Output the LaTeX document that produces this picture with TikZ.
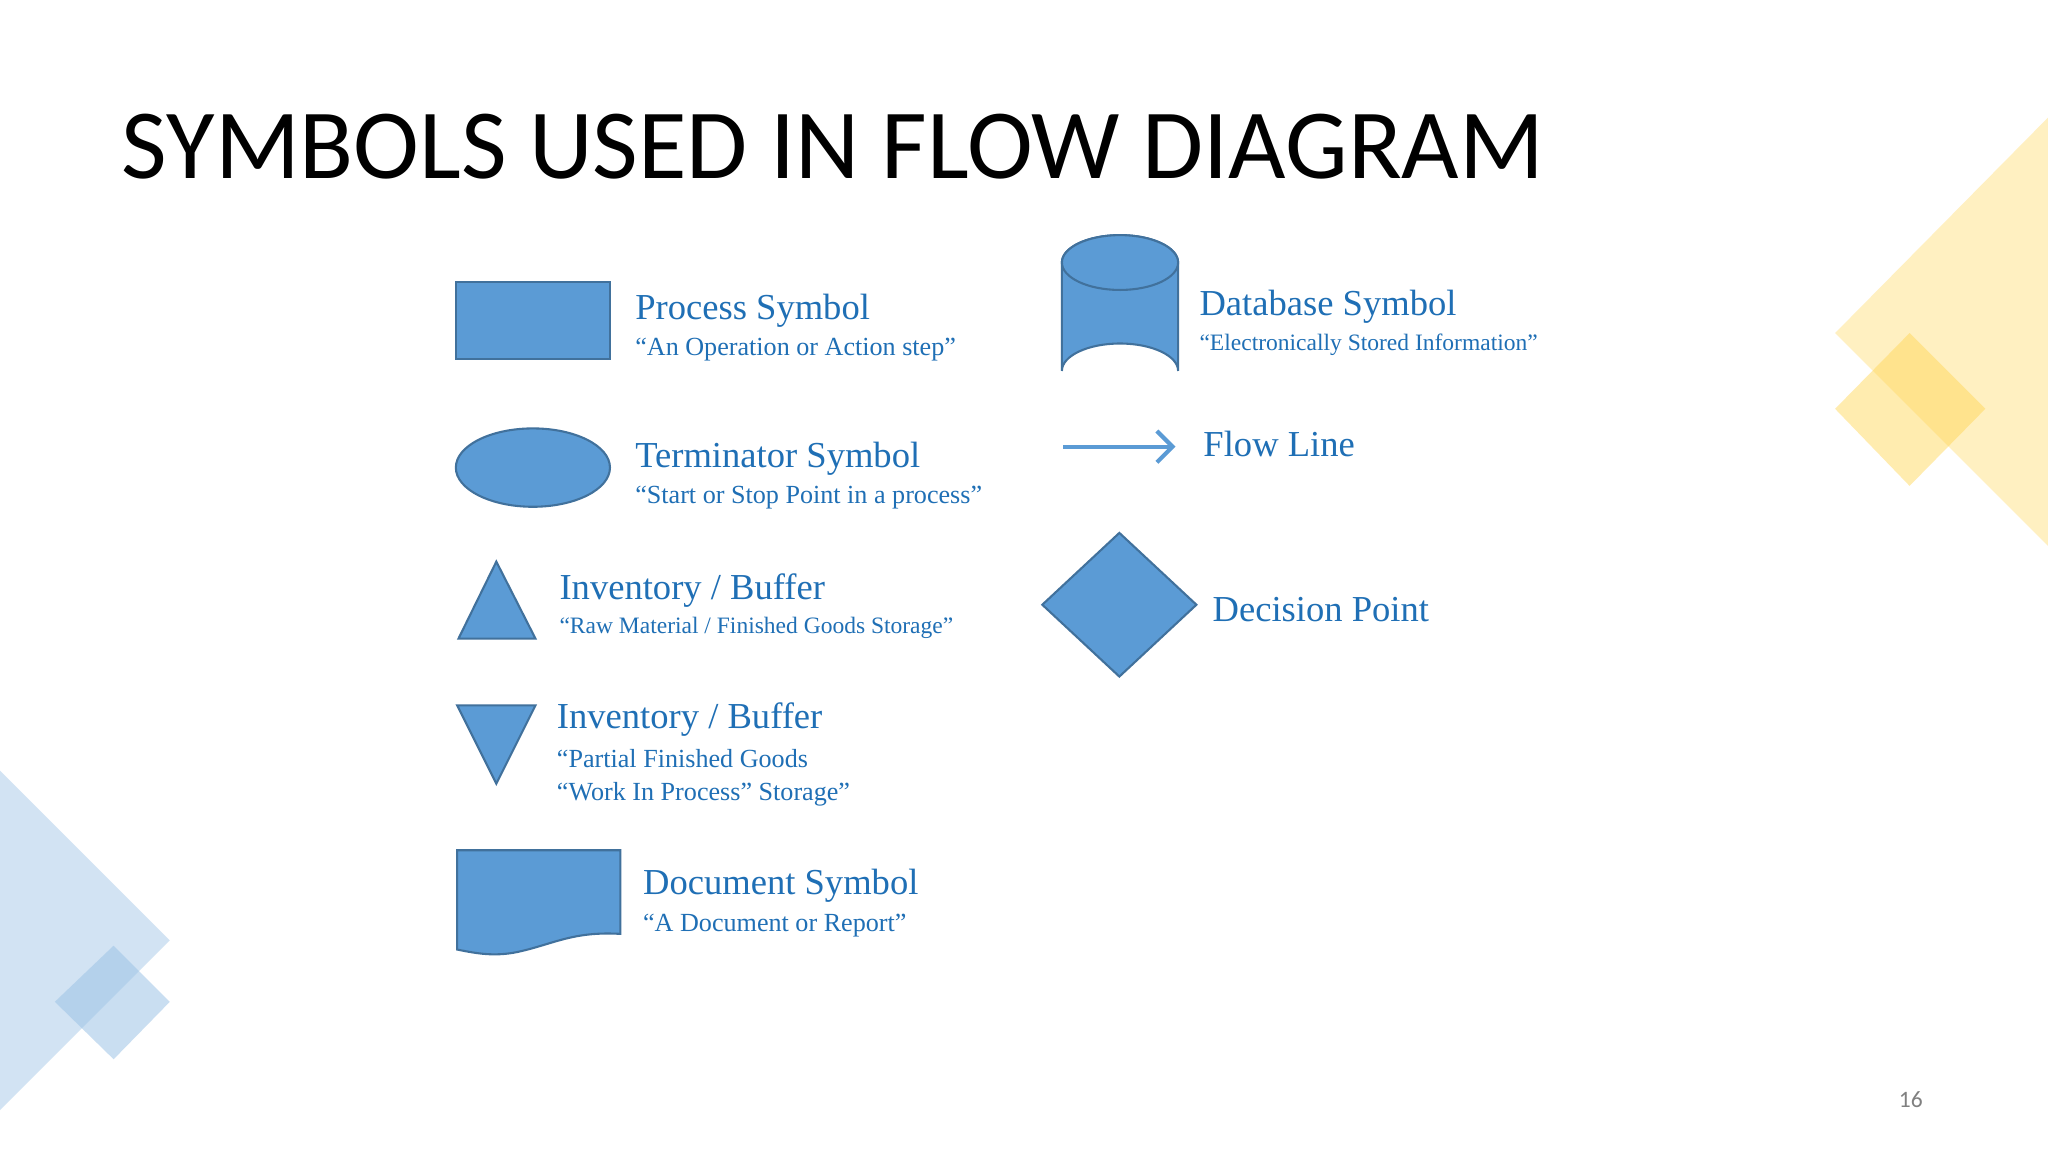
\documentclass[tikz,border=0pt]{standalone}
\usepackage{fontspec}
\usetikzlibrary{arrows.meta}
\setmainfont{Liberation Serif}
\newfontfamily\titlefont{Carlito}
\begin{document}
\begin{tikzpicture}[x=0.5pt,y=-0.5pt,
  shp/.style={fill=shapefill,draw=shapeline,line width=0.8pt},
  hd/.style={anchor=west,text=textblue,font=\fontsize{14}{16}\selectfont,inner sep=0},
  sb/.style={anchor=west,text=textblue,font=\fontsize{10}{12}\selectfont,inner sep=0},
  sbs/.style={anchor=west,text=textblue,font=\fontsize{9}{11}\selectfont,inner sep=0}]
\definecolor{shapefill}{HTML}{5B9BD5}
\definecolor{shapeline}{HTML}{41719C}
\definecolor{textblue}{HTML}{1F6FB5}
\definecolor{yel}{HTML}{FFD54F}
\definecolor{lblue}{HTML}{9DC3E6}
\useasboundingbox (0,0) rectangle (1568,882);
\fill[white] (0,0) rectangle (1568,882);
% decorations
\begin{scope}
\clip (0,0) rectangle (1568,882);
\fill[yel,opacity=0.35] (1568,90) -- (1405,255) -- (1568,418) -- (1730,255) -- cycle;
\fill[yel,opacity=0.45] (1462,255) -- (1405,313) -- (1462,372) -- (1520,313) -- cycle;
\fill[lblue,opacity=0.45] (0,590) -- (130,720) -- (0,850) -- (-130,720) -- cycle;
\fill[lblue,opacity=0.55] (87,724) -- (42,767) -- (87,811) -- (130,767) -- cycle;
\end{scope}
\node[anchor=west,inner sep=0,font=\titlefont\fontsize{38}{40}\selectfont] (title) at (93,112) {SYMBOLS USED IN FLOW DIAGRAM};
\node[text=gray,font=\titlefont\fontsize{9}{10}\selectfont] (pg) at (1463,842) {16};
% shapes
\draw[shp] (349,216) rectangle (467,275);
\draw[shp] (408,358) ellipse [x radius=59, y radius=30];
\draw[shp] (351,489) -- (410,489) -- (380,430) -- cycle;
\draw[shp] (350,540) -- (410,540) -- (380,600) -- cycle;
\draw[shp] (350,651) -- (475,651) -- (475,715) .. controls (440,713) and (425,722) .. (400,728) .. controls (380,733) and (365,730) .. (350,727) -- cycle;
\draw[shp] (813,201) -- (813,284) arc[start angle=180,end angle=360,x radius=44.5,y radius=21] -- (902,201) arc[start angle=0,end angle=-180,x radius=44.5,y radius=21] -- cycle;
\draw[shp] (857.5,201) ellipse [x radius=44.5,y radius=21];
\coordinate (fa) at (814,342); \coordinate (fb) at (900,342);
\draw[shapefill,line width=1.6pt,-{Straight Barb[length=6pt]}] (fa) -- (fb);
\draw[shp] (857,408) -- (916,463) -- (857,518) -- (798,463) -- cycle;
% texts
\node[hd] (t1) at (486,238) {Process Symbol};
\node[sb] (s1) at (486,268) {“An Operation or Action step”};
\node[hd] (t2) at (486,351) {Terminator Symbol};
\node[sb] (s2) at (486,381) {“Start or Stop Point in a process”};
\node[hd] (t3) at (428,452) {Inventory / Buffer};
\node[sbs] (s3) at (428,481) {“Raw Material / Finished Goods Storage”};
\node[hd] (t4) at (426,551) {Inventory / Buffer};
\node[sb] (s4) at (426,581) {“Partial Finished Goods};
\node[sb] (s4b) at (426,608) {“Work In Process” Storage”};
\node[hd] (t5) at (492,678) {Document Symbol};
\node[sb] (s5) at (492,709) {“A Document or Report”};
\node[hd] (t6) at (918,235) {Database Symbol};
\node[sbs] (s6) at (918,264) {“Electronically Stored Information”};
\node[hd] (t7) at (921,340) {Flow Line};
\node[hd] (t8) at (928,467) {Decision Point};
\end{tikzpicture}
\end{document}
